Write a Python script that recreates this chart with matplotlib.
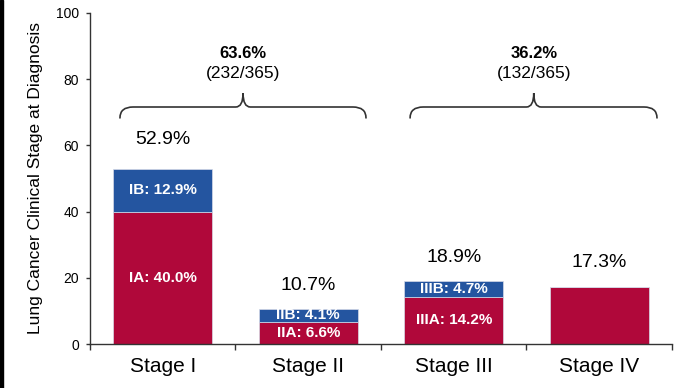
import matplotlib
matplotlib.use("Agg")
import matplotlib.pyplot as plt
from matplotlib.path import Path
from matplotlib.patches import PathPatch, Rectangle

plt.rcParams['font.family'] = ['Liberation Sans', 'DejaVu Sans']

# данные
categories = ["Stage I", "Stage II", "Stage III", "Stage IV"]
stage_a = [40.0, 6.6, 14.2, 17.3]
stage_b = [12.9, 4.1, 4.7, 0.0]
labels_a = ["IA: 40.0%", "IIA: 6.6%", "IIIA: 14.2%", ""]
labels_b = ["IB: 12.9%", "IIB: 4.1%", "IIIB: 4.7%", ""]
totals = ["52.9%", "10.7%", "18.9%", "17.3%"]
total_y = [61.9, 17.8, 26.0, 24.5]

group_pct = ["63.6%", "36.2%"]
group_frac = ["(232/365)", "(132/365)"]
group_span = [(-0.294, 1.397), (1.70, 3.397)]
group_center = [0.552, 2.55]

red = "#B0083A"
blue = "#2455A0"
dark = "#333333"


def draw_brace(ax, x0, x1, xc, yt=68.3, yh=71.6, yc=75.8, rx=0.09, cx=0.05):
    verts = [(x0, yt), (x0, yh), (x0 + rx, yh),
             (xc - cx, yh),
             (xc, yh), (xc, yc),
             (xc, yh), (xc + cx, yh),
             (x1 - rx, yh),
             (x1, yh), (x1, yt)]
    codes = [Path.MOVETO, Path.CURVE3, Path.CURVE3,
             Path.LINETO,
             Path.CURVE3, Path.CURVE3,
             Path.CURVE3, Path.CURVE3,
             Path.LINETO,
             Path.CURVE3, Path.CURVE3]
    ax.add_patch(PathPatch(Path(verts, codes), fill=False, edgecolor=dark,
                           linewidth=1.2, capstyle='round'))


fig = plt.figure(figsize=(6.89, 3.88), dpi=100)
ax = fig.add_axes([0.1306, 0.1134, 0.8447, 0.8531])

x = list(range(len(categories)))
ax.bar(x, stage_a, width=0.68, color=red, edgecolor="#d6dbe8", linewidth=0.5)
ax.bar(x, stage_b, width=0.68, bottom=stage_a, color=blue, edgecolor="#d6dbe8", linewidth=0.5)

for i in x:
    if labels_a[i]:
        ax.text(i, stage_a[i] / 2, labels_a[i], ha='center', va='center',
                color='white', fontsize=11, fontweight='bold')
    if labels_b[i]:
        ax.text(i, stage_a[i] + stage_b[i] / 2, labels_b[i], ha='center', va='center',
                color='white', fontsize=11, fontweight='bold')
    ax.text(i, total_y[i], totals[i], ha='center', va='center', fontsize=14, color='black')

for k in range(len(group_pct)):
    x0, x1 = group_span[k]
    draw_brace(ax, x0, x1, group_center[k])
    ax.text(group_center[k], 87.8, group_pct[k], ha='center', va='center',
            fontsize=12, fontweight='bold')
    ax.text(group_center[k], 81.8, group_frac[k], ha='center', va='center', fontsize=12.5)

ax.set_xlim(-0.5, 3.5)
ax.set_ylim(0, 100)
ax.set_yticks([0, 20, 40, 60, 80, 100])
ax.set_xticks(x)
ax.set_xticklabels(categories, fontsize=15)
ax.set_xticks([-0.5, 0.5, 1.5, 2.5, 3.5], minor=True)
ax.tick_params(axis='x', which='major', length=0, pad=9)
ax.tick_params(axis='x', which='minor', length=4, direction='out', color=dark, width=1)
ax.tick_params(axis='y', length=3, direction='out', color=dark, width=1, labelsize=10, pad=5)

for side in ['top', 'right']:
    ax.spines[side].set_visible(False)
for side in ['left', 'bottom']:
    ax.spines[side].set_color(dark)
    ax.spines[side].set_linewidth(1)

ax.set_ylabel("Lung Cancer Clinical Stage at Diagnosis", fontsize=12.5)
ax.yaxis.set_label_coords(-0.08, 0.5)

# чёрная полоса слева
fig.patches.append(Rectangle((0, 0), 3 / 689, 1, transform=fig.transFigure,
                             color='black', zorder=10))

fig.savefig("out.png", dpi=100)
